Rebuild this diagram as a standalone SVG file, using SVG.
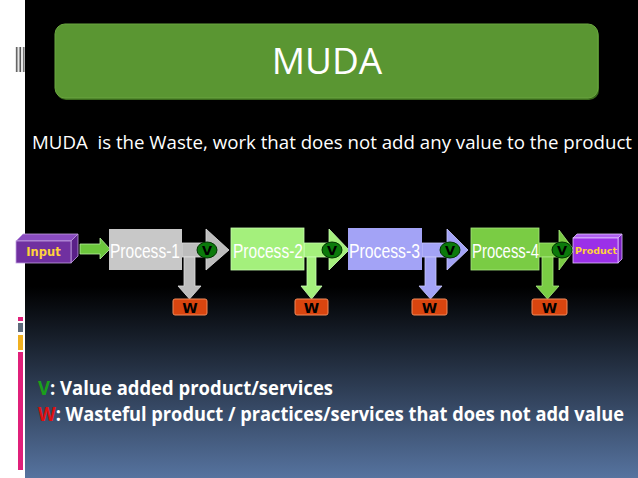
<svg xmlns="http://www.w3.org/2000/svg" width="638" height="478" viewBox="0 0 638 478">
<defs>
<linearGradient id="bg" x1="0" y1="0" x2="0" y2="478" gradientUnits="userSpaceOnUse">
<stop offset="0" stop-color="#000"/>
<stop offset="0.6" stop-color="#000"/>
<stop offset="1" stop-color="#56739f"/>
</linearGradient>
<style>
.proc{font-family:"Liberation Sans",Arial,sans-serif;font-size:20px;fill:#fff}
.v{fill:#0b7a0b;stroke:#013301;stroke-width:1}
.vt{font-family:"DejaVu Sans",Verdana,sans-serif;font-weight:bold;font-size:13px;fill:#000;text-anchor:middle}
.w{fill:#d9450f;stroke:#f28a5a;stroke-width:1}
.wt{font-family:"DejaVu Sans",Verdana,sans-serif;font-weight:bold;font-size:14px;fill:#000;text-anchor:middle}
.lbl{font-family:"DejaVu Sans",Verdana,sans-serif;font-weight:bold;fill:#ffd23c;text-anchor:middle}
.leg{font-family:"Open Sans","Liberation Sans",sans-serif;font-weight:bold;font-size:19px;fill:#fff}
</style>
</defs>
<rect x="0" y="0" width="638" height="478" fill="#fff"/>
<rect x="25" y="0" width="613" height="478" fill="url(#bg)"/>
<!-- left decorations -->
<rect x="15" y="47" width="10" height="25" fill="#e6e6e6"/>
<rect x="16" y="47" width="1.5" height="25" fill="#666"/>
<rect x="19.5" y="47" width="1.5" height="25" fill="#555"/>
<rect x="23" y="47" width="1.5" height="25" fill="#777"/>
<rect x="18" y="317" width="5" height="4" fill="#e0207a"/>
<rect x="18" y="323" width="5" height="9" fill="#5e6b7c"/>
<rect x="18" y="335" width="5" height="15" fill="#f0b020"/>
<rect x="18" y="352" width="5" height="118" fill="#e0207a"/>

<g id="title">
<rect x="56" y="26" width="543" height="74" rx="10" fill="#3a6a1c"/>
<rect x="55" y="24" width="543" height="74" rx="10" fill="#5a9632" stroke="#6aa640" stroke-width="1"/>
<text x="327" y="74" text-anchor="middle" font-family="Open Sans, Liberation Sans, sans-serif" font-size="37" fill="#fff">MUDA</text>
</g>
<g id="subtitle">
<text x="32" y="149" xml:space="preserve" font-family="Open Sans, Liberation Sans, sans-serif" font-size="19" fill="#fff" textLength="600" lengthAdjust="spacingAndGlyphs">MUDA  is the Waste, work that does not add any value to the product</text>
</g>

<g id="connectors">
<polygon points="80,244 100,244 100,238 110,249 100,259 100,254 80,254" fill="#6cc63c" stroke="#b8f0a0" stroke-width="0.8"/>
<polygon points="182,243 206,243 206,229 229,250 206,270 206,257 182,257" fill="#bdbdbd" stroke="#e0e0e0" stroke-width="0.8"/>
<polygon points="184,257 195,257 195,286 201,286 189.5,299 178,286 184,286" fill="#bdbdbd" stroke="#e0e0e0" stroke-width="0.8"/>
<polygon points="304,243 329,243 329,229 349,250 329,270 329,257 304,257" fill="#a4f07c" stroke="#c8ffb0" stroke-width="0.8"/>
<polygon points="307,257 316,257 316,286 322,286 311.5,299 301,286 307,286" fill="#a4f07c" stroke="#c8ffb0" stroke-width="0.8"/>
<polygon points="422,243 447,243 447,229 468,250 447,270 447,257 422,257" fill="#a3a3f6" stroke="#c8c8ff" stroke-width="0.8"/>
<polygon points="425,257 436,257 436,286 442,286 430.5,299 419,286 425,286" fill="#a3a3f6" stroke="#c8c8ff" stroke-width="0.8"/>
<polygon points="539,243 559,243 559,230 574,250 559,270 559,257 539,257" fill="#7acc44" stroke="#a8e880" stroke-width="0.8"/>
<polygon points="542,257 553,257 553,286 559,286 547.5,299 536,286 542,286" fill="#7acc44" stroke="#a8e880" stroke-width="0.8"/>
</g>

<g id="input">
<polygon points="16,241 23,234 78,234 71,241" fill="#8a4cc0" stroke="#c0a0e0" stroke-width="0.8"/>
<polygon points="71,241 78,234 78,256 71,263" fill="#5a2088" stroke="#c0a0e0" stroke-width="0.8"/>
<rect x="16" y="241" width="55" height="22" fill="#7030a0" stroke="#c0a0e0" stroke-width="0.8"/>
<text class="lbl" x="43.5" y="256" font-size="11.5">Input</text>
</g>

<g id="process-1">
<rect x="109" y="229" width="73" height="41" fill="#c8c8c8"/>
<text class="proc" x="110" y="258" textLength="70" lengthAdjust="spacingAndGlyphs">Process-1</text>
</g>
<g id="process-2">
<rect x="231" y="228" width="73" height="42" fill="#a4f07c" stroke="#c8ffb0" stroke-width="0.8"/>
<text class="proc" x="233" y="258" textLength="70" lengthAdjust="spacingAndGlyphs">Process-2</text>
</g>
<g id="process-3">
<rect x="348" y="228" width="74" height="42" fill="#a3a3f6"/>
<text class="proc" x="349" y="258" textLength="71" lengthAdjust="spacingAndGlyphs">Process-3</text>
</g>
<g id="process-4">
<rect x="471" y="228" width="68" height="42" fill="#7acc44" stroke="#a8e880" stroke-width="0.8"/>
<text class="proc" x="472" y="258" textLength="67" lengthAdjust="spacingAndGlyphs">Process-4</text>
</g>

<g id="product">
<polygon points="573,238 577,234 622,234 618,238" fill="#b060f0" stroke="#e0c0ff" stroke-width="0.8"/>
<polygon points="618,238 622,234 622,259 618,263" fill="#7a20c0" stroke="#e0c0ff" stroke-width="0.8"/>
<rect x="573" y="238" width="45" height="25" fill="#9b30e8" stroke="#e0c0ff" stroke-width="0.8"/>
<text class="lbl" x="596" y="254" font-size="9.5">Product</text>
</g>

<g id="v1"><ellipse class="v" cx="207" cy="250" rx="10" ry="8"/><text class="vt" x="207" y="255">V</text></g>
<g id="v2"><ellipse class="v" cx="332" cy="250" rx="10" ry="8"/><text class="vt" x="332" y="255">V</text></g>
<g id="v3"><ellipse class="v" cx="450" cy="250" rx="10" ry="8"/><text class="vt" x="450" y="255">V</text></g>
<g id="v4"><ellipse class="v" cx="562" cy="250" rx="10" ry="8"/><text class="vt" x="562" y="255">V</text></g>

<g id="w1"><rect class="w" x="173" y="299" width="34" height="16" rx="2"/><text class="wt" x="190" y="313">W</text></g>
<g id="w2"><rect class="w" x="295" y="299" width="33" height="16" rx="2"/><text class="wt" x="311.5" y="313">W</text></g>
<g id="w3"><rect class="w" x="412" y="299" width="35" height="16" rx="2"/><text class="wt" x="429.5" y="313">W</text></g>
<g id="w4"><rect class="w" x="532" y="299" width="35" height="16" rx="2"/><text class="wt" x="549.5" y="313">W</text></g>

<g id="legend">
<text class="leg" x="38" y="395" textLength="295" lengthAdjust="spacingAndGlyphs"><tspan fill="#1aa01a">V</tspan>: Value added product/services</text>
<text class="leg" x="38" y="421" textLength="586" lengthAdjust="spacingAndGlyphs"><tspan fill="#e01010">W</tspan>: Wasteful product / practices/services that does not add value</text>
</g>
</svg>
